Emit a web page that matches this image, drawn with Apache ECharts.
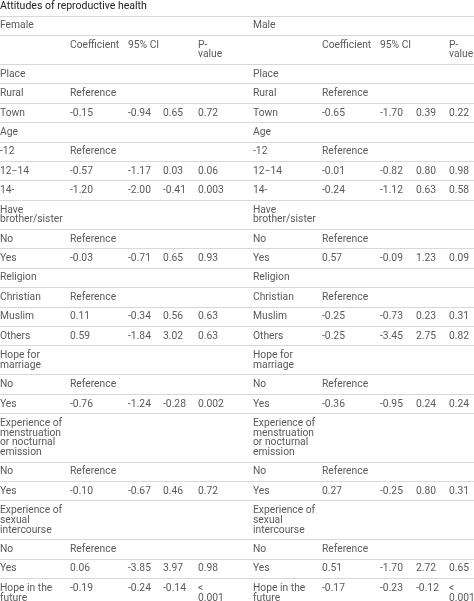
<!DOCTYPE html>
<html><head><meta charset="utf-8">
<script src="https://cdn.jsdelivr.net/npm/echarts@6/dist/echarts.min.js"></script>
<style>html,body{margin:0;padding:0;background:#fff}#c{width:474px;height:601px}</style>
</head><body><div id="c"></div>
<script>
const title = 'Attitudes of reproductive health';
const labelsF = ['Female','','Place','Rural','Town','Age','-12','12−14','14-','Have\nbrother/sister','No','Yes','Religion','Christian','Muslim','Others','Hope for\nmarriage','No','Yes','Experience of\nmenstruation\nor nocturnal\nemission','No','Yes','Experience of\nsexual\nintercourse','No','Yes','Hope in the\nfuture'];
const labelsM = labelsF.map((s,i)=> i===0 ? 'Male' : s);
const R = 'Reference';
const coefF = ['','Coefficient','',R,'-0.15','',R,'-0.57','-1.20','',R,'-0.03','',R,'0.11','0.59','',R,'-0.76','',R,'-0.10','',R,'0.06','-0.19'];
const loF   = ['','95% CI','','','-0.94','','','-1.17','-2.00','','','-0.71','','','-0.34','-1.84','','','-1.24','','','-0.67','','','-3.85','-0.24'];
const hiF   = ['','','','','0.65','','','0.03','-0.41','','','0.65','','','0.56','3.02','','','-0.28','','','0.46','','','3.97','-0.14'];
const pF    = ['','P-\nvalue','','','0.72','','','0.06','0.003','','','0.93','','','0.63','0.63','','','0.002','','','0.72','','','0.98','<\n0.001'];
const coefM = ['','Coefficient','',R,'-0.65','',R,'-0.01','-0.24','',R,'0.57','',R,'-0.25','-0.25','',R,'-0.36','',R,'0.27','',R,'0.51','-0.17'];
const loM   = ['','95% CI','','','-1.70','','','-0.82','-1.12','','','-0.09','','','-0.73','-3.45','','','-0.95','','','-0.25','','','-1.70','-0.23'];
const hiM   = ['','','','','0.39','','','0.80','0.63','','','1.23','','','0.23','2.75','','','0.24','','','0.80','','','2.72','-0.12'];
const pM    = ['','P-\nvalue','','','0.22','','','0.98','0.58','','','0.09','','','0.31','0.82','','','0.24','','','0.31','','','0.65','<\n0.001'];

const cols = [
  {x:0, v:labelsF},{x:70, v:coefF},{x:128, v:loF},{x:163, v:hiF},{x:198, v:pF},
  {x:253, v:labelsM},{x:322, v:coefM},{x:380, v:loM},{x:416, v:hiM},{x:449, v:pM}
];
const LH = 9.7, TOP = 15.5;
const lines = labelsF.map((s,i)=>Math.max(...cols.map(c=>c.v[i].split('\n').length)));
const tops = []; let acc = TOP;
lines.forEach(n=>{ tops.push(acc); acc += LH*n + LH; });
const data = lines.map((n,i)=>[i, tops[i], tops[i]+LH*n+LH]);

const chart = echarts.init(document.getElementById('c'));
chart.setOption({
  animation:false,
  title:{text:title,left:0,top:0,padding:[1,0,0,0],textStyle:{fontSize:10.5,fontWeight:'normal',color:'#222',fontFamily:'Roboto'}},
  grid:{left:0,right:0,top:0,bottom:0},
  xAxis:{type:'value',min:0,max:474,show:false},
  yAxis:{type:'value',min:0,max:601,inverse:true,show:false},
  series:[{type:'custom',data:data,renderItem:(params,api)=>{
    const i = api.value(0);
    const t = api.coord([0, api.value(1)]);
    const children = [{type:'line',shape:{x1:0,y1:Math.round(t[1])+0.5,x2:474,y2:Math.round(t[1])+0.5},style:{stroke:'#d8d8d8',lineWidth:1.2}}];
    cols.forEach(c=>{
      const s = c.v[i]; if(!s) return;
      const p = api.coord([c.x, api.value(1)]);
      children.push({type:'text',x:p[0],y:p[1]+5.3,style:{text:s,fill:'#5a5a5a',font:'10.3px Roboto',lineHeight:LH,verticalAlign:'top',align:'left'}});
    });
    return {type:'group',children};
  }}]
});
</script></body></html>
